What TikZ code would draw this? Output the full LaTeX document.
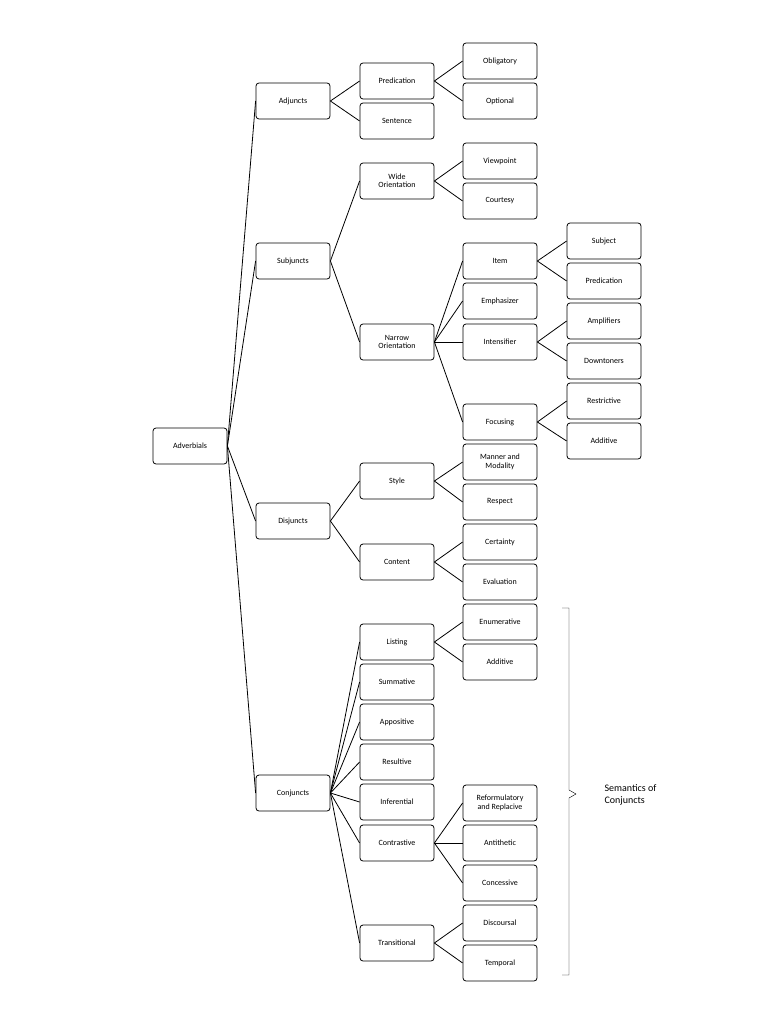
\documentclass[tikz,border=0pt]{standalone}
\usepackage{fontspec}
\setmainfont{Carlito}
\begin{document}
\begin{tikzpicture}[x=1pt,y=-1pt,
 bx/.style={draw,thick,rounded corners=3pt,minimum width=74pt,minimum height=36pt,align=center,font=\fontsize{8}{8.5}\selectfont,inner sep=1pt},
 ln/.style={thick}]
\useasboundingbox (0,0) rectangle (768,1024);
\node[bx] (adv) at (190,446) {Adverbials};
\node[bx] (adj) at (293,101) {Adjuncts};
\node[bx] (sub) at (293,261) {Subjuncts};
\node[bx] (dis) at (293,521) {Disjuncts};
\node[bx] (con) at (293,793) {Conjuncts};
\foreach \c in {adj,sub,dis,con} \draw[ln] (adv.east) -- (\c.west);
% column 3
\node[bx] (pred) at (397,81) {Predication};
\node[bx] (sent) at (397,121) {Sentence};
\node[bx] (wide) at (397,181) {Wide\\Orientation};
\node[bx] (narr) at (397,342) {Narrow\\Orientation};
\node[bx] (style) at (397,481) {Style};
\node[bx] (cont) at (397,562) {Content};
\node[bx] (list) at (397,642) {Listing};
\node[bx] (summ) at (397,682) {Summative};
\node[bx] (appo) at (397,722) {Appositive};
\node[bx] (resu) at (397,762) {Resultive};
\node[bx] (infe) at (397,802) {Inferential};
\node[bx] (ctr) at (397,843) {Contrastive};
\node[bx] (tran) at (397,943) {Transitional};
\foreach \c in {pred,sent} \draw[ln] (adj.east) -- (\c.west);
\foreach \c in {wide,narr} \draw[ln] (sub.east) -- (\c.west);
\foreach \c in {style,cont} \draw[ln] (dis.east) -- (\c.west);
\foreach \c in {list,summ,appo,resu,infe,ctr,tran} \draw[ln] (con.east) -- (\c.west);
% column 4
\node[bx] (obl) at (500,61) {Obligatory};
\node[bx] (opt) at (500,101) {Optional};
\node[bx] (view) at (500,161) {Viewpoint};
\node[bx] (cour) at (500,201) {Courtesy};
\node[bx] (item) at (500,261) {Item};
\node[bx] (emph) at (500,301) {Emphasizer};
\node[bx] (inte) at (500,342) {Intensifier};
\node[bx] (focu) at (500,422) {Focusing};
\node[bx] (mann) at (500,462) {Manner and\\Modality};
\node[bx] (resp) at (500,502) {Respect};
\node[bx] (cert) at (500,542) {Certainty};
\node[bx] (eval) at (500,582) {Evaluation};
\node[bx] (enum) at (500,622) {Enumerative};
\node[bx] (add1) at (500,662) {Additive};
\node[bx] (refo) at (500,803) {Reformulatory\\and Replacive};
\node[bx] (anti) at (500,843) {Antithetic};
\node[bx] (conc) at (500,883) {Concessive};
\node[bx] (disc) at (500,923) {Discoursal};
\node[bx] (temp) at (500,963) {Temporal};
\foreach \c in {obl,opt} \draw[ln] (pred.east) -- (\c.west);
\foreach \c in {view,cour} \draw[ln] (wide.east) -- (\c.west);
\foreach \c in {item,emph,inte,focu} \draw[ln] (narr.east) -- (\c.west);
\foreach \c in {mann,resp} \draw[ln] (style.east) -- (\c.west);
\foreach \c in {cert,eval} \draw[ln] (cont.east) -- (\c.west);
\foreach \c in {enum,add1} \draw[ln] (list.east) -- (\c.west);
\foreach \c in {refo,anti,conc} \draw[ln] (ctr.east) -- (\c.west);
\foreach \c in {disc,temp} \draw[ln] (tran.east) -- (\c.west);
% column 5
\node[bx] (subj) at (604,241) {Subject};
\node[bx] (pre2) at (604,281) {Predication};
\node[bx] (ampl) at (604,321) {Amplifiers};
\node[bx] (down) at (604,361) {Downtoners};
\node[bx] (rest) at (604,401) {Restrictive};
\node[bx] (add2) at (604,441) {Additive};
\foreach \c in {subj,pre2} \draw[ln] (item.east) -- (\c.west);
\foreach \c in {ampl,down} \draw[ln] (inte.east) -- (\c.west);
\foreach \c in {rest,add2} \draw[ln] (focu.east) -- (\c.west);
% brace
\draw[thin] (562,608) -- (569,608) -- (569,790) -- (576,794) -- (569,798) -- (569,975) -- (562,975);
\node[anchor=west,align=left,font=\fontsize{10}{12}\selectfont] (sem) at (601,795) {Semantics of\\Conjuncts};
\end{tikzpicture}
\end{document}
